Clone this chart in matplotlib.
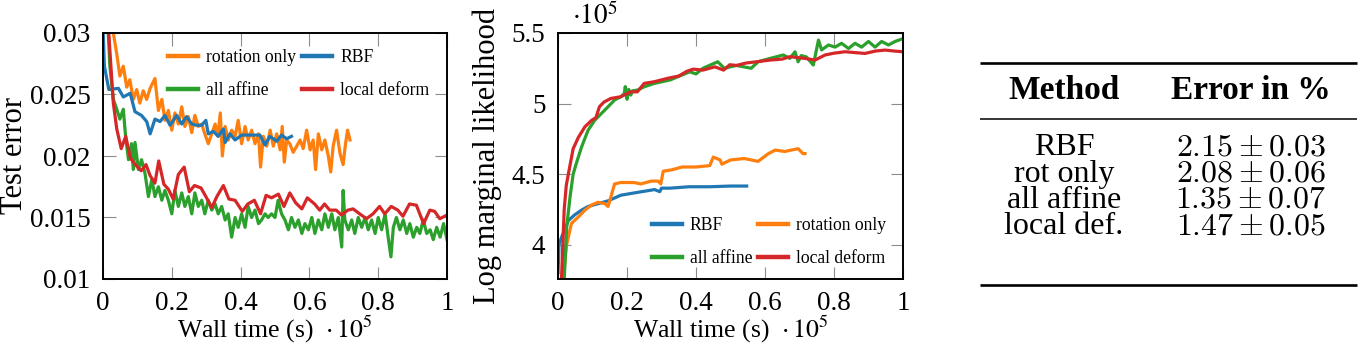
import matplotlib
matplotlib.use('Agg')
import matplotlib.pyplot as plt
from matplotlib.lines import Line2D

plt.rcParams['font.family'] = ['Liberation Serif', 'DejaVu Serif']
plt.rcParams['mathtext.fontset'] = 'stix'
plt.rcParams['xtick.labelsize'] = 19.5
plt.rcParams['ytick.labelsize'] = 19.5

# ---------------- data ----------------
x_ticks = [0, 0.2, 0.4, 0.6, 0.8, 1.0]
x_ticklabels = ['0', '0.2', '0.4', '0.6', '0.8', '1']
left_yticks = [0.01, 0.015, 0.02, 0.025, 0.03]
left_yticklabels = ['0.01', '0.015', '0.02', '0.025', '0.03']
mid_yticks = [4.0, 4.5, 5.0, 5.5]
mid_yticklabels = ['4', '4.5', '5', '5.5']

# Left panel: test error vs wall time (x in units of 1e5 s)
rot_err_x = [0.020, 0.030, 0.040, 0.049, 0.059, 0.069, 0.078, 0.088, 0.098, 0.107,
             0.117, 0.127, 0.137, 0.151, 0.161, 0.171, 0.180, 0.190, 0.200, 0.209,
             0.219, 0.229, 0.238, 0.248, 0.258, 0.267, 0.277, 0.287, 0.296, 0.306,
             0.316, 0.326, 0.334, 0.341, 0.347, 0.355, 0.364, 0.374, 0.384, 0.393,
             0.403, 0.413, 0.422, 0.432, 0.442, 0.452, 0.458, 0.466, 0.476, 0.486,
             0.495, 0.505, 0.515, 0.521, 0.527, 0.534, 0.543, 0.553, 0.563, 0.573,
             0.582, 0.592, 0.602, 0.611, 0.618, 0.626, 0.636, 0.645, 0.655, 0.662,
             0.669, 0.679, 0.689, 0.698, 0.705, 0.711, 0.718]
rot_err_y = [0.0320, 0.0300, 0.0283, 0.0265, 0.0273, 0.0256, 0.0262, 0.0246, 0.0254, 0.0243,
             0.0253, 0.0246, 0.0255, 0.0263, 0.0237, 0.0246, 0.0229, 0.0237, 0.0221, 0.0235,
             0.0226, 0.0240, 0.0224, 0.0232, 0.0219, 0.0233, 0.0224, 0.0226, 0.0218, 0.0210,
             0.0218, 0.0226, 0.0216, 0.0235, 0.0200, 0.0224, 0.0213, 0.0221, 0.0216, 0.0229,
             0.0210, 0.0224, 0.0213, 0.0221, 0.0210, 0.0218, 0.0191, 0.0216, 0.0208, 0.0221,
             0.0208, 0.0218, 0.0205, 0.0224, 0.0195, 0.0213, 0.0210, 0.0203, 0.0208, 0.0213,
             0.0206, 0.0221, 0.0205, 0.0213, 0.0189, 0.0218, 0.0205, 0.0213, 0.0200, 0.0187,
             0.0208, 0.0221, 0.0202, 0.0193, 0.0210, 0.0221, 0.0213]

rbf_err_x = [0.000, 0.004, 0.017, 0.045, 0.059, 0.079, 0.093, 0.112, 0.127, 0.137,
             0.151, 0.166, 0.180, 0.195, 0.214, 0.229, 0.243, 0.258, 0.272, 0.287,
             0.299, 0.306, 0.321, 0.335, 0.350, 0.355, 0.369, 0.384, 0.403, 0.422,
             0.442, 0.456, 0.471, 0.485, 0.505, 0.519, 0.534, 0.548]
rbf_err_y = [0.0305, 0.0273, 0.0254, 0.0255, 0.0248, 0.0251, 0.0236, 0.0233, 0.0228, 0.0218,
             0.0230, 0.0228, 0.0233, 0.0225, 0.0233, 0.0226, 0.0232, 0.0226, 0.0225, 0.0225,
             0.0229, 0.0218, 0.0220, 0.0216, 0.0222, 0.0211, 0.0218, 0.0213, 0.0217, 0.0217,
             0.0217, 0.0217, 0.0209, 0.0216, 0.0212, 0.0217, 0.0214, 0.0216]

aff_err_x = [0.012, 0.020, 0.030, 0.040, 0.049, 0.059, 0.066, 0.074, 0.083, 0.088,
             0.093, 0.103, 0.112, 0.122, 0.132, 0.142, 0.151, 0.161, 0.171, 0.180,
             0.190, 0.200, 0.209, 0.219, 0.229, 0.238, 0.248, 0.258, 0.267, 0.277,
             0.287, 0.296, 0.306, 0.316, 0.326, 0.335, 0.345, 0.355, 0.364, 0.374,
             0.384, 0.393, 0.403, 0.413, 0.422, 0.432, 0.442, 0.452, 0.461, 0.471,
             0.480, 0.490, 0.500, 0.509, 0.519, 0.529, 0.539, 0.548, 0.558, 0.568,
             0.578, 0.587, 0.597, 0.607, 0.616, 0.626, 0.636, 0.645, 0.655, 0.665,
             0.674, 0.684, 0.694, 0.698, 0.703, 0.713, 0.723, 0.732, 0.742, 0.752,
             0.762, 0.771, 0.781, 0.791, 0.800, 0.810, 0.820, 0.829, 0.837, 0.844,
             0.853, 0.863, 0.873, 0.883, 0.892, 0.902, 0.912, 0.921, 0.931, 0.941,
             0.951, 0.960, 0.970, 0.980, 0.990, 1.000]
aff_err_y = [0.0320, 0.0273, 0.0246, 0.0238, 0.0230, 0.0238, 0.0215, 0.0197, 0.0210, 0.0189,
             0.0211, 0.0189, 0.0197, 0.0186, 0.0167, 0.0181, 0.0167, 0.0175, 0.0164, 0.0172,
             0.0164, 0.0153, 0.0172, 0.0159, 0.0170, 0.0159, 0.0167, 0.0153, 0.0170, 0.0159,
             0.0164, 0.0153, 0.0164, 0.0156, 0.0161, 0.0153, 0.0159, 0.0148, 0.0153, 0.0134,
             0.0150, 0.0142, 0.0153, 0.0142, 0.0159, 0.0150, 0.0156, 0.0145, 0.0148, 0.0153,
             0.0150, 0.0153, 0.0150, 0.0164, 0.0153, 0.0148, 0.0140, 0.0150, 0.0142, 0.0148,
             0.0137, 0.0145, 0.0140, 0.0150, 0.0137, 0.0148, 0.0140, 0.0153, 0.0142, 0.0153,
             0.0140, 0.0150, 0.0126, 0.0172, 0.0148, 0.0140, 0.0148, 0.0137, 0.0150, 0.0142,
             0.0150, 0.0140, 0.0148, 0.0137, 0.0150, 0.0140, 0.0153, 0.0134, 0.0118, 0.0142,
             0.0150, 0.0140, 0.0148, 0.0137, 0.0145, 0.0134, 0.0142, 0.0137, 0.0148, 0.0137,
             0.0140, 0.0132, 0.0142, 0.0134, 0.0145, 0.0132]

loc_err_x = [0.012, 0.030, 0.040, 0.053, 0.066, 0.080, 0.097, 0.111, 0.125, 0.137,
             0.151, 0.162, 0.177, 0.190, 0.204, 0.219, 0.236, 0.251, 0.266, 0.285,
             0.301, 0.316, 0.331, 0.350, 0.366, 0.384, 0.405, 0.421, 0.440, 0.458,
             0.474, 0.490, 0.510, 0.526, 0.543, 0.560, 0.578, 0.594, 0.615, 0.630,
             0.644, 0.659, 0.678, 0.693, 0.712, 0.727, 0.746, 0.766, 0.785, 0.804,
             0.819, 0.838, 0.857, 0.872, 0.891, 0.911, 0.932, 0.950, 0.964, 0.979,
             1.000]
loc_err_y = [0.0320, 0.0243, 0.0222, 0.0206, 0.0216, 0.0198, 0.0192, 0.0188, 0.0193, 0.0184,
             0.0178, 0.0196, 0.0177, 0.0173, 0.0165, 0.0185, 0.0191, 0.0171, 0.0176, 0.0174,
             0.0166, 0.0158, 0.0167, 0.0176, 0.0165, 0.0164, 0.0155, 0.0161, 0.0164, 0.0153,
             0.0168, 0.0166, 0.0169, 0.0159, 0.0170, 0.0162, 0.0157, 0.0166, 0.0161, 0.0156,
             0.0161, 0.0156, 0.0156, 0.0152, 0.0156, 0.0157, 0.0153, 0.0149, 0.0153, 0.0159,
             0.0153, 0.0159, 0.0156, 0.0151, 0.0161, 0.0160, 0.0145, 0.0156, 0.0155, 0.0149,
             0.0152]

# Middle panel: log marginal likelihood (units of 1e5) vs wall time (1e5 s)
rbf_ml_x = [0.000, 0.003, 0.010, 0.030, 0.048, 0.068, 0.087, 0.116, 0.145, 0.182,
            0.230, 0.280, 0.295, 0.300, 0.325, 0.380, 0.440, 0.500, 0.547]
rbf_ml_y = [3.80, 4.00, 4.05, 4.17, 4.21, 4.244, 4.27, 4.29, 4.31, 4.35,
            4.37, 4.39, 4.375, 4.40, 4.40, 4.41, 4.41, 4.415, 4.415]

rot_ml_x = [0.015, 0.025, 0.039, 0.059, 0.078, 0.097, 0.116, 0.136, 0.145, 0.150,
            0.164, 0.182, 0.200, 0.220, 0.240, 0.270, 0.290, 0.298, 0.305, 0.330,
            0.360, 0.400, 0.440, 0.450, 0.470, 0.475, 0.500, 0.540, 0.580, 0.610,
            0.630, 0.657, 0.677, 0.696, 0.710, 0.716]
rot_ml_y = [3.75, 4.00, 4.15, 4.196, 4.244, 4.28, 4.30, 4.29, 4.27, 4.31,
            4.43, 4.44, 4.44, 4.44, 4.43, 4.45, 4.45, 4.43, 4.52, 4.53,
            4.55, 4.55, 4.56, 4.62, 4.60, 4.57, 4.60, 4.61, 4.59, 4.645,
            4.67, 4.66, 4.67, 4.68, 4.645, 4.645]

aff_ml_x = [0.018, 0.025, 0.035, 0.044, 0.053, 0.068, 0.087, 0.106, 0.126, 0.145,
            0.164, 0.182, 0.192, 0.195, 0.200, 0.205, 0.211, 0.216, 0.230, 0.250,
            0.280, 0.325, 0.382, 0.400, 0.420, 0.463, 0.482, 0.517, 0.560, 0.580,
            0.615, 0.653, 0.672, 0.687, 0.696, 0.705, 0.720, 0.740, 0.755, 0.764,
            0.784, 0.803, 0.822, 0.842, 0.861, 0.880, 0.900, 0.919, 0.938, 0.958,
            0.977, 1.000]
aff_ml_y = [3.75, 4.12, 4.34, 4.50, 4.575, 4.69, 4.81, 4.88, 4.93, 4.977,
            5.025, 5.048, 5.07, 5.12, 5.03, 5.10, 5.06, 5.09, 5.095, 5.119,
            5.143, 5.167, 5.225, 5.21, 5.25, 5.296, 5.25, 5.27, 5.25, 5.296,
            5.32, 5.344, 5.32, 5.367, 5.296, 5.34, 5.33, 5.273, 5.45, 5.38,
            5.415, 5.40, 5.427, 5.39, 5.427, 5.40, 5.44, 5.40, 5.44, 5.415,
            5.44, 5.46]

loc_ml_x = [0.010, 0.018, 0.024, 0.030, 0.044, 0.059, 0.078, 0.097, 0.110, 0.120,
            0.133, 0.153, 0.182, 0.211, 0.230, 0.250, 0.280, 0.320, 0.350, 0.373,
            0.392, 0.420, 0.455, 0.480, 0.498, 0.517, 0.545, 0.575, 0.615, 0.650,
            0.672, 0.716, 0.745, 0.774, 0.800, 0.832, 0.866, 0.890, 0.920, 0.948,
            0.975, 1.000]
loc_ml_y = [3.75, 4.25, 4.42, 4.50, 4.68, 4.76, 4.835, 4.88, 4.90, 4.977,
            5.01, 5.036, 5.048, 5.083, 5.083, 5.143, 5.155, 5.18, 5.195, 5.228,
            5.244, 5.237, 5.26, 5.237, 5.275, 5.27, 5.287, 5.296, 5.308, 5.315,
            5.332, 5.32, 5.308, 5.344, 5.357, 5.367, 5.36, 5.355, 5.372, 5.379,
            5.372, 5.367]

# Table
table_methods = ['RBF', 'rot only', 'all affine', 'local def.']
table_err = [2.15, 2.08, 1.35, 1.47]
table_std = [0.03, 0.06, 0.07, 0.05]

# ---------------- figure ----------------
C_BLUE, C_ORANGE, C_GREEN, C_RED = '#1f77b4', '#ff7f0e', '#2ca02c', '#d62728'
LW = 2.3
TICK_FS = 19.5
W, H = 1360, 344


def fx(px):
    return px / W


def fy(py):
    return 1 - py / H


fig = plt.figure(figsize=(13.6, 3.44), dpi=100)
ax1 = fig.add_axes([fx(103), fy(279), (447 - 103) / W, (279 - 33) / H])
ax2 = fig.add_axes([fx(558), fy(279), (903 - 558) / W, (279 - 33) / H])


def style(ax, yticks, yticklabels, ylim):
    for s in ax.spines.values():
        s.set_linewidth(1.4)
        s.set_color('black')
    ax.set_xlim(0, 1)
    ax.set_ylim(*ylim)
    ax.set_xticks(x_ticks)
    ax.set_xticklabels(x_ticklabels, fontsize=TICK_FS)
    ax.set_yticks(yticks)
    ax.set_yticklabels(yticklabels, fontsize=TICK_FS)
    ax.tick_params(direction='in', length=9, width=0.8, color='0.55',
                   top=True, right=True, pad=9, labelcolor='black')
    for lab in ax.get_xticklabels() + ax.get_yticklabels():
        lab.set_fontsize(TICK_FS)


def legend_handle(color):
    return Line2D([], [], color=color, lw=3.2)


LEG_KW = dict(ncol=2, loc='upper left', frameon=False, fontsize=12.7,
              handlelength=1.7, handletextpad=0.45, columnspacing=0.35,
              labelspacing=0.9, borderpad=0, borderaxespad=0)

XLAB_FS = 18.5
XLAB_Y = -0.143

# Left panel
ax1.plot(rot_err_x, rot_err_y, color=C_ORANGE, lw=LW)
ax1.plot(rbf_err_x, rbf_err_y, color=C_BLUE, lw=LW)
ax1.plot(aff_err_x, aff_err_y, color=C_GREEN, lw=LW)
ax1.plot(loc_err_x, loc_err_y, color=C_RED, lw=LW)
style(ax1, left_yticks, left_yticklabels, (0.01, 0.03))
ax1.set_ylabel('Test error', fontsize=22)
ax1.yaxis.set_label_coords(-0.215, 0.5)
ax1.set_xlabel(r'Wall time (s)  $\cdot\,10^5$', fontsize=XLAB_FS)
ax1.xaxis.set_label_coords(0.5, XLAB_Y)
ax1.legend([legend_handle(C_ORANGE), legend_handle(C_GREEN),
            legend_handle(C_BLUE), legend_handle(C_RED)],
           ['rotation only', 'all affine', 'RBF', 'local deform'],
           bbox_to_anchor=(0.189, 0.935), **LEG_KW)

# Middle panel
ax2.plot(rbf_ml_x, rbf_ml_y, color=C_BLUE, lw=LW)
ax2.plot(rot_ml_x, rot_ml_y, color=C_ORANGE, lw=LW)
ax2.plot(aff_ml_x, aff_ml_y, color=C_GREEN, lw=LW)
ax2.plot(loc_ml_x, loc_ml_y, color=C_RED, lw=LW)
style(ax2, mid_yticks, mid_yticklabels, (3.756, 5.5))
ax2.set_ylabel('Log marginal likelihood', fontsize=22)
ax2.yaxis.set_label_coords(-0.162, 0.5)
ax2.set_xlabel(r'Wall time (s)  $\cdot\,10^5$', fontsize=XLAB_FS)
ax2.xaxis.set_label_coords(0.5, XLAB_Y)
ax2.text(0.04, 1.035, r'$\cdot 10^5$', transform=ax2.transAxes, fontsize=19.5,
         ha='left', va='baseline')
ax2.legend([legend_handle(C_BLUE), legend_handle(C_GREEN),
            legend_handle(C_ORANGE), legend_handle(C_RED)],
           ['RBF', 'all affine', 'rotation only', 'local deform'],
           bbox_to_anchor=(0.272, 0.25), **LEG_KW)

# Table
def hrule(py, lw):
    fig.add_artist(Line2D([fx(980), fx(1357)], [fy(py), fy(py)], color='black',
                          lw=lw, transform=fig.transFigure, solid_capstyle='butt'))


hrule(63, 1.9)
hrule(119, 1.1)
hrule(285, 1.9)
col1, col2 = 1064, 1251
fig.text(fx(col1), fy(99), 'Method', ha='center', va='baseline', fontsize=24,
         fontweight='bold')
fig.text(fx(col2), fy(99), 'Error in %', ha='center', va='baseline', fontsize=24,
         fontweight='bold')
row_base = [155, 181.5, 208, 234.5]
for name, m, s, yb in zip(table_methods, table_err, table_std, row_base):
    fig.text(fx(col1), fy(yb), name, ha='center', va='baseline', fontsize=23)
    fig.text(fx(col2), fy(yb), rf'${m:.2f} \pm {s:.2f}$', ha='center',
             va='baseline', fontsize=23, math_fontfamily='cm')

fig.savefig('out.png', dpi=100)
